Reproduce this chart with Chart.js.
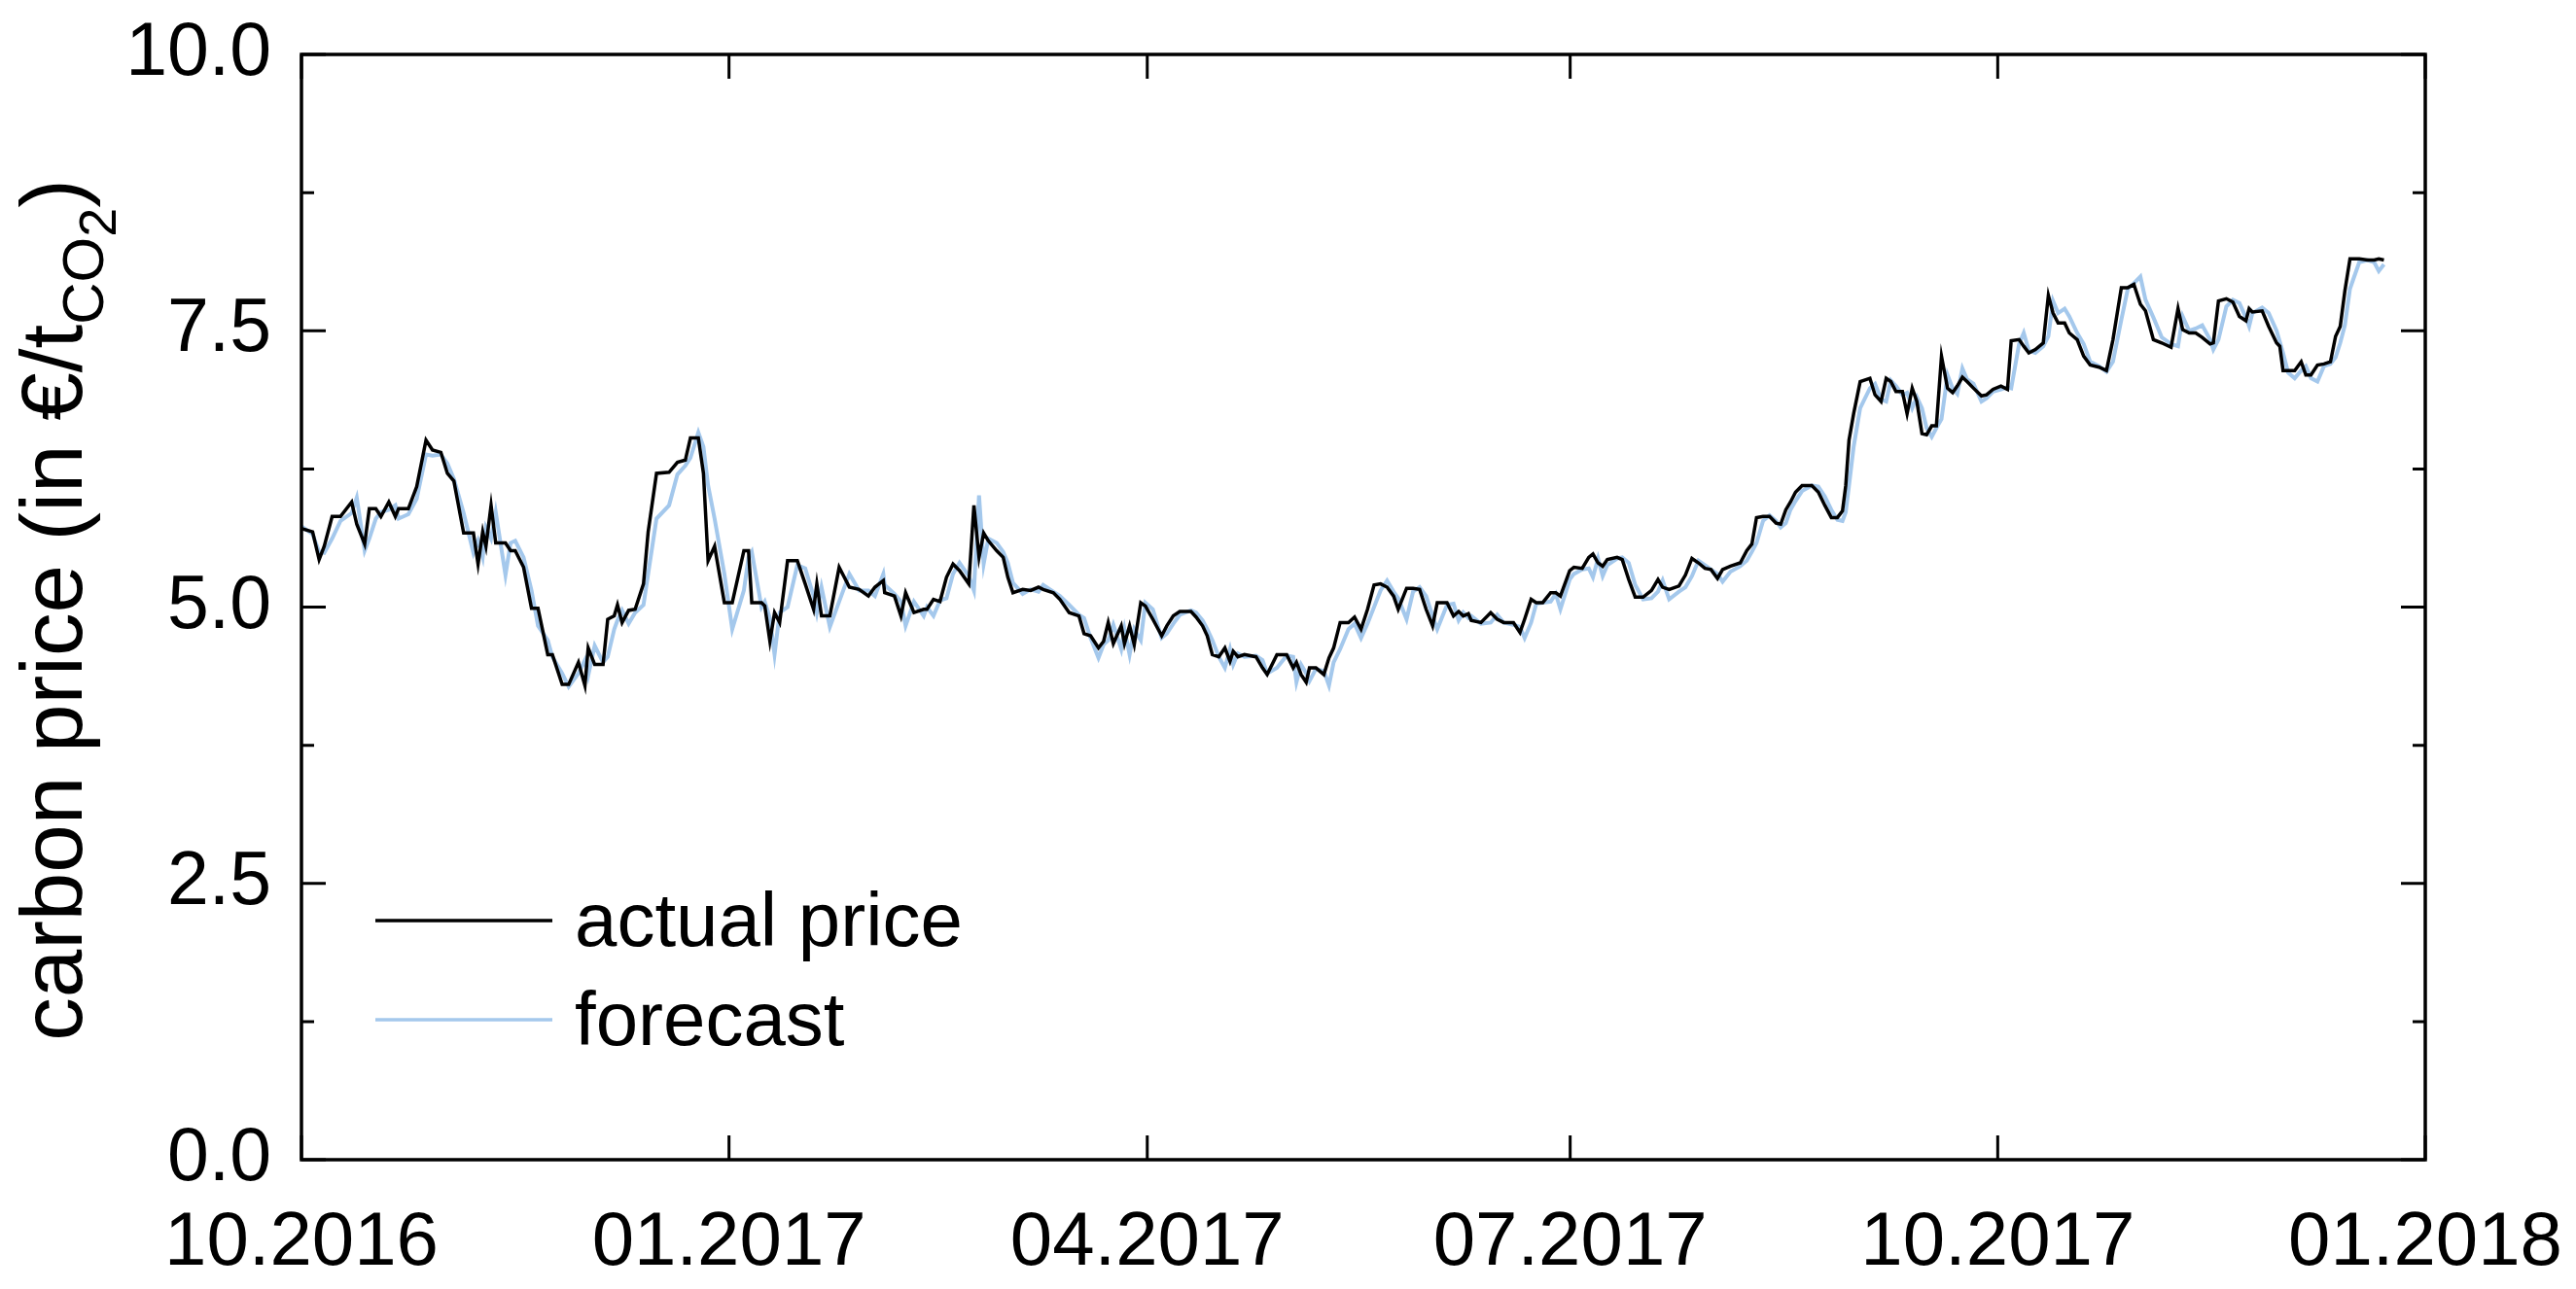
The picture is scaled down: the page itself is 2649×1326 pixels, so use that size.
<!DOCTYPE html>
<html lang="en">
<head>
  <meta charset="UTF-8" />
  <title>carbon price: actual vs forecast</title>
  <script src="https://cdn.jsdelivr.net/npm/chart.js@4"></script>
  <style>
    html, body { margin: 0; padding: 0; background: #fff; }
    canvas { display: block; }
  </style>
</head>
<body>
  <canvas id="priceChart" width="2649" height="1326"></canvas>

  <script>
    // x = days since 01.10.2016
    const days = [
      0, 2.4, 3.8, 4.9, 6.6, 8.4, 10.8, 11.9, 13.6, 14.6, 16, 17.1, 18.8, 20.2, 20.9, 23,
      24.8, 26.8, 28.2, 30, 31.4, 32.8, 34.9, 37, 38, 39, 39.7, 40.8, 41.8, 43.9, 45, 46,
      47.8, 49.5, 50.9, 53, 54, 56.1, 57.5, 59.6, 61, 61.7, 63.1, 64.9, 65.9, 67.3, 68, 69, 70.4, 71.8,
      73.6, 74.6, 76.4, 79.1, 80.9, 82.6, 83.7, 85.4, 86.5, 87.5, 88.9, 91, 92.7, 95.2, 96.2,
      96.9, 99, 99.7, 100.8, 101.8, 102.9, 104.6, 106.7, 108.4, 110.2, 110.9, 111.9, 113.7, 115.7, 117.9, 120, 122,
      123.4, 125.2, 125.5, 127.6, 129, 130, 131.8, 133.9, 134.6, 136, 137.4, 138.8, 140.2, 141.6, 143.6, 144.7, 145.8, 146.8, 147.8, 149.6,
      151, 152, 153.1, 155.2, 156.9, 158.6, 159.6, 161.8, 163.2, 165.2, 167.3, 168.4, 169.8, 171.5, 172.6, 173.6, 174.7, 176.4, 177.1, 178.2, 179.2, 180.6, 181.6,
      183.2, 185.1, 186.2, 187.6, 189, 191.4, 192.5, 193.9, 194.9, 196, 197.4, 198.7, 199.8, 200.5, 201.5, 202.9, 205.4, 206.8, 207.8, 209.9, 212,
      213.4, 214.1, 215.1, 216.2, 216.9, 218.3, 220, 221.1, 222.1, 223.5, 225.3, 226.6, 228, 229.4, 230.8, 232.2, 233.6, 235, 236, 237.8, 239.2, 240.6, 242, 243.4, 244.4,
      246.5, 247.9, 249, 250, 251.1, 251.7, 253.8, 255.9, 257.3, 258.7, 260.8, 262.2, 263.2, 264.6, 265.7, 267.1, 268.8, 269.9, 270.9, 272.9, 273.8, 275.6, 277, 277.9, 279,
      280, 281, 283.1, 284.2, 285.6, 287, 288.7, 290.5, 291.9, 292.9, 294.3, 296.4, 297.8, 299.2, 300.6, 302, 303.3, 304.7, 305.8, 307.5, 309.6, 311,
      312.1, 313.1, 314.5, 315.9, 317.3, 318.3, 319.4, 320.4, 321.5, 322.9, 325, 326.4, 327.8, 329.2, 330.5, 331.6, 332.3, 333, 334, 335.4, 337.5, 338.6, 339.9, 341,
      342, 343.1, 344.5, 345.5, 346.6, 347.6, 348.7, 349.7, 350.8, 351.8, 352.9, 354.2, 355.3, 356.3, 357.4, 358.4, 359.8, 361.5, 362.6, 364, 365.7, 367.1,
      367.9, 369.6, 370.6, 371.7, 373.1, 374.8, 375.9, 376.9, 378, 379.4, 380.4, 382.1, 383.5, 384.9, 386.8, 388.4, 389.8, 391.6, 393, 394.3, 395.7, 396.8, 398.5,
      400.3, 402.3, 403.8, 404.8, 406.2, 407.6, 409, 410.7, 411.4, 412.5, 414.2, 415.6, 417, 418.4, 419.1, 419.8, 421.9, 423.3, 425,
      425.7, 426.4, 427.5, 428.9, 430.3, 431.3, 432.4, 433.8, 435.2, 436.6, 437.7, 438.7, 439.7, 440.8, 442.8, 444.6, 446, 447, 448.1
    ];

    const actualPrice = [
      5.71, 5.68, 5.43, 5.55, 5.82, 5.82, 5.95, 5.75, 5.57, 5.89, 5.89, 5.82, 5.95, 5.82, 5.89, 5.89,
      6.09, 6.51, 6.42, 6.40, 6.21, 6.14, 5.67, 5.67, 5.39, 5.68, 5.55, 5.92, 5.58, 5.58, 5.51, 5.51,
      5.36, 4.99, 4.99, 4.57, 4.57, 4.30, 4.30, 4.50, 4.29, 4.63, 4.48, 4.48, 4.89, 4.92, 5.02, 4.86, 4.97, 4.98,
      5.21, 5.68, 6.21, 6.22, 6.31, 6.33, 6.53, 6.53, 6.21, 5.42, 5.55, 5.04, 5.04, 5.51, 5.51,
      5.04, 5.04, 5.01, 4.69, 4.95, 4.86, 5.42, 5.42, 5.21, 4.98, 5.21, 4.92, 4.92, 5.36, 5.18, 5.16, 5.10,
      5.18, 5.24, 5.13, 5.10, 4.92, 5.13, 4.95, 4.98, 4.98, 5.07, 5.05, 5.27, 5.39, 5.33, 5.21, 5.92, 5.45, 5.67, 5.60, 5.51,
      5.45, 5.27, 5.13, 5.16, 5.15, 5.18, 5.16, 5.13, 5.07, 4.95, 4.92, 4.76, 4.74, 4.63, 4.69, 4.86, 4.67, 4.83, 4.67, 4.83, 4.66, 5.04, 5.01,
      4.89, 4.74, 4.83, 4.92, 4.96, 4.96, 4.91, 4.83, 4.74, 4.57, 4.55, 4.63, 4.51, 4.60, 4.55, 4.57, 4.55, 4.45, 4.39, 4.57, 4.57,
      4.45, 4.50, 4.39, 4.32, 4.45, 4.45, 4.39, 4.54, 4.63, 4.86, 4.86, 4.91, 4.80, 4.98, 5.20, 5.21, 5.18, 5.10, 4.98, 5.17, 5.17, 5.16, 4.98, 4.83, 5.04,
      5.04, 4.92, 4.96, 4.92, 4.94, 4.88, 4.86, 4.95, 4.89, 4.86, 4.86, 4.77, 4.89, 5.07, 5.04, 5.04, 5.13, 5.13, 5.10, 5.33, 5.36, 5.35, 5.45, 5.48, 5.40,
      5.37, 5.43, 5.45, 5.43, 5.25, 5.09, 5.09, 5.15, 5.25, 5.18, 5.16, 5.19, 5.29, 5.44, 5.40, 5.35, 5.34, 5.26, 5.34, 5.37, 5.40, 5.51,
      5.57, 5.81, 5.82, 5.82, 5.76, 5.75, 5.88, 5.95, 6.04, 6.10, 6.10, 6.04, 5.92, 5.81, 5.81, 5.87, 6.10, 6.51, 6.75, 7.04, 7.07, 6.92, 6.86, 7.07,
      7.04, 6.95, 6.95, 6.75, 6.98, 6.86, 6.57, 6.56, 6.64, 6.64, 7.27, 6.98, 6.94, 7.00, 7.08, 7.04, 6.98, 6.91, 6.92, 6.97, 7.00, 6.97,
      7.41, 7.42, 7.36, 7.30, 7.33, 7.39, 7.82, 7.66, 7.57, 7.57, 7.48, 7.42, 7.27, 7.19, 7.17, 7.14, 7.42, 7.89, 7.89, 7.92, 7.74, 7.68, 7.42,
      7.39, 7.35, 7.70, 7.51, 7.48, 7.48, 7.44, 7.38, 7.39, 7.77, 7.79, 7.76, 7.63, 7.59, 7.70, 7.67, 7.68, 7.54, 7.39,
      7.36, 7.14, 7.14, 7.14, 7.22, 7.10, 7.10, 7.19, 7.20, 7.22, 7.45, 7.54, 7.86, 8.15, 8.15, 8.14, 8.14, 8.15, 8.14
    ];

    const forecastPrice = [
      5.73, 5.66, 5.50, 5.49, 5.62, 5.78, 5.85, 5.99, 5.51, 5.62, 5.80, 5.86, 5.88, 5.92, 5.80, 5.84,
      5.98, 6.38, 6.37, 6.38, 6.30, 6.16, 5.85, 5.49, 5.60, 5.45, 5.72, 5.62, 5.86, 5.29, 5.58, 5.60,
      5.45, 5.15, 4.83, 4.70, 4.55, 4.40, 4.28, 4.40, 4.52, 4.38, 4.65, 4.50, 4.55, 4.80, 4.88, 4.97, 4.85, 4.95,
      5.02, 5.30, 5.80, 5.92, 6.20, 6.28, 6.35, 6.58, 6.45, 6.10, 5.80, 5.30, 4.80, 5.15, 5.45,
      5.50, 5.00, 5.05, 4.90, 4.57, 4.95, 5.00, 5.38, 5.35, 5.10, 4.95, 5.18, 4.82, 5.05, 5.30, 5.15, 5.15,
      5.10, 5.30, 5.20, 5.12, 5.05, 4.83, 5.05, 4.92, 5.00, 4.92, 5.06, 5.08, 5.30, 5.40, 5.28, 5.15, 6.01, 5.39, 5.62, 5.58,
      5.50, 5.40, 5.22, 5.12, 5.16, 5.14, 5.20, 5.14, 5.10, 5.02, 4.93, 4.90, 4.72, 4.54, 4.66, 4.70, 4.84, 4.62, 4.80, 4.57, 4.80, 4.70, 5.04,
      4.98, 4.72, 4.76, 4.85, 4.93, 4.97, 4.95, 4.88, 4.80, 4.70, 4.55, 4.45, 4.62, 4.48, 4.58, 4.55, 4.56, 4.52, 4.40, 4.45, 4.56,
      4.55, 4.32, 4.48, 4.40, 4.33, 4.44, 4.42, 4.29, 4.50, 4.62, 4.80, 4.85, 4.72, 4.85, 5.00, 5.15, 5.24, 5.14, 5.08, 4.89, 5.14, 5.18, 5.10, 4.92, 4.80,
      5.02, 5.03, 4.88, 4.95, 4.90, 4.92, 4.85, 4.86, 4.93, 4.86, 4.84, 4.82, 4.72, 4.86, 5.03, 5.04, 5.05, 5.12, 4.98, 5.25, 5.30, 5.34, 5.35, 5.27, 5.44,
      5.28, 5.38, 5.44, 5.45, 5.40, 5.20, 5.07, 5.08, 5.14, 5.24, 5.07, 5.14, 5.18, 5.28, 5.42, 5.38, 5.34, 5.30, 5.23, 5.32, 5.37, 5.42,
      5.50, 5.58, 5.78, 5.83, 5.78, 5.72, 5.76, 5.88, 5.96, 6.05, 6.10, 6.09, 6.00, 5.88, 5.79, 5.78, 5.86, 6.10, 6.45, 6.80, 6.98, 7.02, 6.88, 6.86,
      7.05, 7.00, 6.92, 6.94, 6.80, 6.90, 6.80, 6.62, 6.54, 6.62, 6.70, 7.10, 6.98, 6.93, 7.16, 7.06, 7.02, 6.86, 6.89, 6.95, 6.97, 6.99,
      6.98, 7.38, 7.48, 7.32, 7.30, 7.36, 7.45, 7.77, 7.66, 7.70, 7.63, 7.48, 7.38, 7.22, 7.18, 7.13, 7.22, 7.60, 7.88, 7.93, 7.99, 7.78, 7.62,
      7.44, 7.38, 7.36, 7.63, 7.50, 7.52, 7.55, 7.42, 7.33, 7.42, 7.72, 7.78, 7.75, 7.62, 7.54, 7.66, 7.71, 7.66, 7.50,
      7.40, 7.30, 7.12, 7.07, 7.14, 7.18, 7.07, 7.04, 7.18, 7.20, 7.26, 7.39, 7.55, 7.88, 8.12, 8.14, 8.12, 8.04, 8.10
    ];

    const seriesNames = ['actual price', 'forecast'];
    const tickDays = [0, 92, 182, 273, 365, 457];
    const tickLabels = ['10.2016', '01.2017', '04.2017', '07.2017', '10.2017', '01.2018'];
    const yTicks = [0, 2.5, 5, 7.5, 10];

    const FONT = "'Liberation Sans', Arial, sans-serif";

    // frame with inward ticks, legend and the y title (needs subscripts)
    const decorations = {
      id: 'decorations',
      afterDatasetsDraw(chart) {
        const { ctx, chartArea: a, scales: { x, y } } = chart;
        ctx.save();
        ctx.strokeStyle = '#000';
        ctx.lineWidth = 3.5;
        ctx.strokeRect(a.left, a.top, a.right - a.left, a.bottom - a.top);

        ctx.lineWidth = 3;
        ctx.beginPath();
        for (let i = 0; i < yTicks.length; i++) {
          const py = y.getPixelForValue(yTicks[i]);
          ctx.moveTo(a.left, py); ctx.lineTo(a.left + 25, py);
          ctx.moveTo(a.right, py); ctx.lineTo(a.right - 25, py);
          if (i < yTicks.length - 1) {
            const pm = y.getPixelForValue((yTicks[i] + yTicks[i + 1]) / 2);
            ctx.moveTo(a.left, pm); ctx.lineTo(a.left + 13, pm);
            ctx.moveTo(a.right, pm); ctx.lineTo(a.right - 13, pm);
          }
        }
        tickDays.forEach(d => {
          const px = x.getPixelForValue(d);
          ctx.moveTo(px, a.bottom); ctx.lineTo(px, a.bottom - 25);
          ctx.moveTo(px, a.top); ctx.lineTo(px, a.top + 25);
        });
        ctx.stroke();

        // legend
        ctx.font = '78px ' + FONT;
        ctx.fillStyle = '#000';
        ctx.textBaseline = 'middle';
        ctx.textAlign = 'left';
        chart.data.datasets.forEach((ds, i) => {
          const ly = a.bottom - 246 + i * 102;
          ctx.strokeStyle = ds.borderColor;
          ctx.lineWidth = 3.5;
          ctx.beginPath();
          ctx.moveTo(a.left + 76, ly);
          ctx.lineTo(a.left + 258, ly);
          ctx.stroke();
          ctx.fillText(ds.label, a.left + 281, ly + 4);
        });

        // y axis title: carbon price (in €/t_CO_2)
        const big = 89, sub = 60, subsub = 54;
        const parts = [
          { t: 'carbon price (in €/t', size: big, dy: 0 },
          { t: 'CO', size: sub, dy: 22 },
          { t: '2', size: subsub, dy: 35 },
          { t: ')', size: big, dy: 0 }
        ];
        let total = 0;
        parts.forEach(p => { ctx.font = p.size + 'px ' + FONT; p.w = ctx.measureText(p.t).width; total += p.w; });
        ctx.translate(84, (a.top + a.bottom) / 2 + 3);
        ctx.rotate(-Math.PI / 2);
        ctx.textBaseline = 'alphabetic';
        ctx.fillStyle = '#000';
        let cx = -total / 2;
        parts.forEach(p => {
          ctx.font = p.size + 'px ' + FONT;
          ctx.fillText(p.t, cx, p.dy);
          cx += p.w;
        });
        ctx.restore();
      }
    };

    new Chart(document.getElementById('priceChart').getContext('2d'), {
      type: 'line',
      data: {
        datasets: [
          {
            label: seriesNames[0],
            data: days.map((d, i) => ({ x: d, y: actualPrice[i] })),
            borderColor: '#000000',
            borderWidth: 3.5,
            pointRadius: 0,
            tension: 0
          },
          {
            label: seriesNames[1],
            data: days.map((d, i) => ({ x: d, y: forecastPrice[i] })),
            borderColor: '#a4c8ec',
            borderWidth: 4,
            pointRadius: 0,
            tension: 0
          }
        ]
      },
      options: {
        responsive: false,
        animation: false,
        devicePixelRatio: 1,
        layout: { padding: { left: 0, right: 155, top: 56, bottom: 0 } },
        plugins: {
          legend: { display: false },
          title: { display: false },
          tooltip: { enabled: false }
        },
        scales: {
          x: {
            type: 'linear',
            min: 0,
            max: 457,
            grid: { display: false, drawTicks: false },
            border: { display: false },
            afterBuildTicks: scale => { scale.ticks = tickDays.map(v => ({ value: v })); },
            afterFit: scale => {
              scale.height = 133;
              scale.paddingLeft = 0;
              scale.paddingRight = 0;
            },
            ticks: {
              autoSkip: false,
              maxRotation: 0,
              padding: 40,
              color: '#000',
              font: { family: FONT, size: 78 },
              callback: (v, i) => tickLabels[i]
            }
          },
          y: {
            min: 0,
            max: 10,
            grid: { display: false, drawTicks: false },
            border: { display: false },
            afterBuildTicks: scale => { scale.ticks = yTicks.map(v => ({ value: v })); },
            afterFit: scale => {
              scale.width = 310;
              scale.paddingTop = 0;
              scale.paddingBottom = 0;
            },
            ticks: {
              padding: 31,
              color: '#000',
              font: { family: FONT, size: 77 },
              callback: v => v.toFixed(1)
            }
          }
        }
      },
      plugins: [decorations]
    });
  </script>
</body>
</html>
